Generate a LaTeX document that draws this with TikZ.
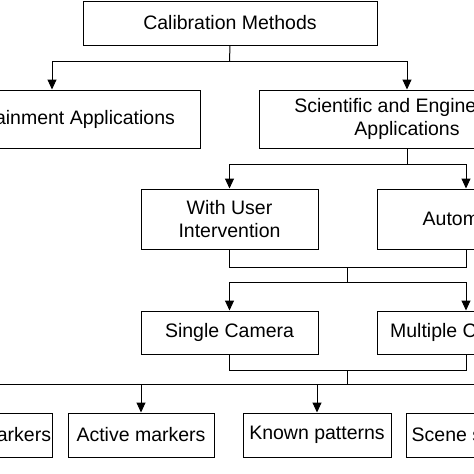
\documentclass[tikz,border=0pt]{standalone}
\usepackage{fontspec}
\setmainfont{Liberation Sans}
\usetikzlibrary{arrows.meta}
\begin{document}
\begin{tikzpicture}[x=1pt,y=-1pt,
  box/.style={draw, line width=1pt, rectangle, align=center, inner sep=0pt,
    font=\fontsize{19.5}{23}\selectfont},
  link/.style={line width=1pt},
  arr/.style={line width=1pt, -{Triangle[length=10pt,width=9pt]}}]
\useasboundingbox (0,0) rectangle (474,474);
\clip (0,0) rectangle (474,474);
\fill[white] (0,0) rectangle (474,474);
% nodes
\node[box, minimum width=294pt, minimum height=44pt] (cal) at (230,23) {Calibration Methods};
\node[box, minimum width=282pt, minimum height=58pt] (ent) at (59,119) {Entertainment Applications};
\node[box, minimum width=296pt, minimum height=58pt] (sci) at (407,119) {Scientific and Engineering\\Applications};
\node[box, minimum width=177pt, minimum height=60pt] (wui) at (229.5,219) {With User\\Intervention};
\node[box, minimum width=178pt, minimum height=60pt] (aut) at (466,219) {Automatic};
\node[box, minimum width=177pt, minimum height=43pt] (sc) at (229.5,332.5) {Single Camera};
\node[box, minimum width=178pt, minimum height=43pt] (mc) at (466,332.5) {Multiple Cameras};
\node[box, minimum width=146pt, minimum height=44pt] (pm) at (-21,435) {Passive markers};
\node[box, minimum width=146pt, minimum height=44pt] (am) at (141,435) {Active markers};
\node[box, minimum width=148pt, minimum height=44pt] (kp) at (317,435) {Known patterns};
\node[box, minimum width=148pt, minimum height=44pt] (ss) at (480,435) {Scene structure};
% junctions
\coordinate (j1) at (229.5,61);
\coordinate (j2) at (407,164);
\coordinate (j3) at (347,267);
\coordinate (j4) at (347,282);
\coordinate (j5) at (347,370);
\coordinate (j6) at (347,384);
% connectors
\draw[link] (cal.south) -- (j1);
\draw[arr] (j1) -| ([xshift=-7pt]ent.north);
\draw[arr] (j1) -| (sci.north);
\draw[link] (sci.south) -- (j2);
\draw[arr] (j2) -| (wui.north);
\draw[arr] (j2) -| (aut.north);
\draw[link] (wui.south) |- (j3);
\draw[link] (aut.south) |- (j3);
\draw[link] (j3) -- (j4);
\draw[arr] (j4) -| (sc.north);
\draw[arr] (j4) -| (mc.north);
\draw[link] (sc.south) |- (j5);
\draw[link] (mc.south) |- (j5);
\draw[link] (j5) -- (j6);
\draw[arr] (j6) -| (pm.north);
\draw[arr] (j6) -| (am.north);
\draw[arr] (j6) -| (kp.north);
\draw[arr] (j6) -| (ss.north);
\end{tikzpicture}
\end{document}
